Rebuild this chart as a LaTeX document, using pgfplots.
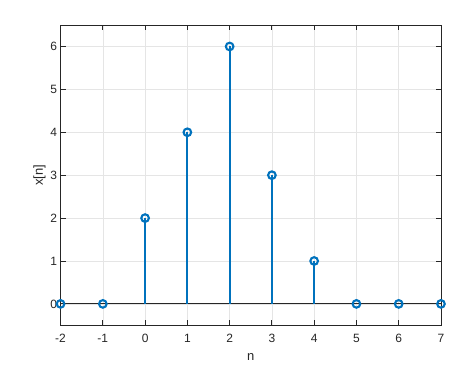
\documentclass[border=0pt]{standalone}
\usepackage{fontspec}
\setmainfont{Liberation Sans}
\usepackage{pgfplots}
\pgfplotsset{compat=1.18}
\definecolor{mblue}{rgb}{0,0.447,0.741}
\definecolor{axgray}{gray}{0.15}
\begin{document}
\begin{tikzpicture}
\begin{axis}[
  scale only axis, width=380pt, height=300pt,
  xmin=-2, xmax=7, ymin=-0.5, ymax=6.5,
  xtick={-2,...,7}, ytick={0,...,6},
  grid=major, major grid style={gray!20, line width=0.6pt},
  axis line style={axgray, line width=0.8pt},
  tick style={axgray, line width=0.8pt},
  tick align=inside, major tick length=5pt,
  /pgf/number format/assume math mode=true,
  ticklabel style={font=\fontsize{12}{14}\selectfont, text=axgray},
  xticklabel style={yshift=-5pt},
  label style={font=\fontsize{13}{15}\selectfont, text=axgray},
  xlabel={n}, ylabel={x[n]},
  xlabel style={yshift=-4pt},
  ylabel style={yshift=-2pt},
  clip=false,
]
\addplot[axgray, line width=0.8pt] coordinates {(-2,0) (7,0)};
\addplot[ycomb, mblue, line width=2.2pt, mark=o, mark size=3.8pt,
  mark options={fill=white, line width=2.1pt}] coordinates {
  (-2,0) (-1,0) (0,2) (1,4) (2,6) (3,3) (4,1) (5,0) (6,0) (7,0)};
\end{axis}
\path (current axis.south west) ++(-60.5pt,-56pt) coordinate (bl);
\path (current axis.north east) ++(33pt,25pt) coordinate (tr);
\path (bl) rectangle (tr);
\end{tikzpicture}
\end{document}
